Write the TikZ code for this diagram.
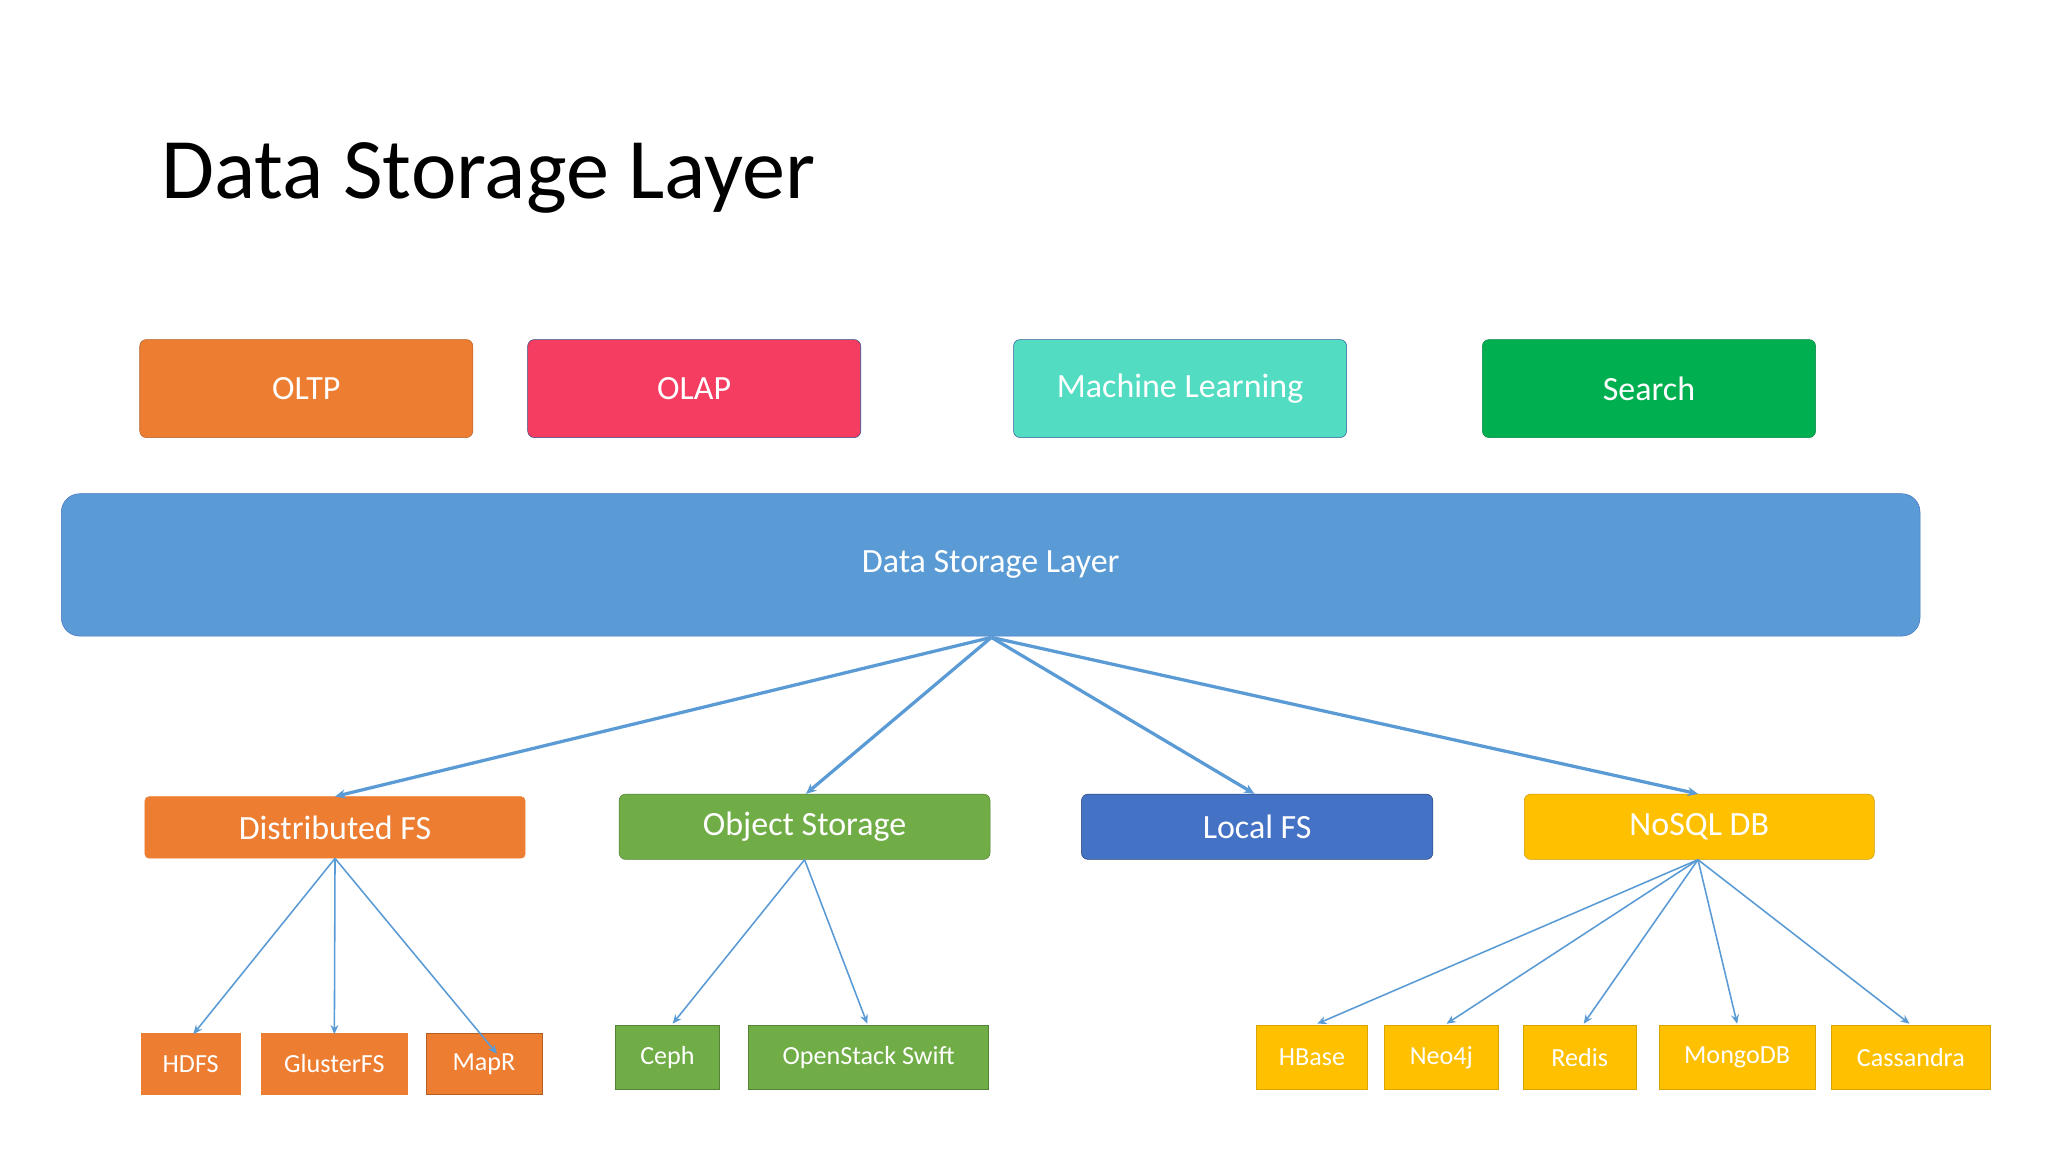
\documentclass[tikz,border=0pt]{standalone}
\usepackage{fontspec}
\setmainfont{Carlito}
\usetikzlibrary{arrows.meta}
\definecolor{cor}{HTML}{ED7D31}
\definecolor{cred}{HTML}{F53C61}
\definecolor{ctl}{HTML}{52DCC2}
\definecolor{cgr}{HTML}{00B050}
\definecolor{cbl}{HTML}{5B9BD5}
\definecolor{cgn}{HTML}{70AD47}
\definecolor{cdb}{HTML}{4472C4}
\definecolor{cyl}{HTML}{FFC000}
\begin{document}
\begin{tikzpicture}[x=1pt,y=-1pt,
 box/.style={draw=#1!75!black,fill=#1,text=white,rounded corners=5pt,inner sep=0pt,font=\fontsize{26}{30}\selectfont},
 sb/.style={draw=#1!75!black,fill=#1,text=white,inner sep=0pt,font=\fontsize{20}{24}\selectfont},
 big/.style={-{Stealth[length=8pt,width=7pt]},cbl,line width=2.5pt},
 sm/.style={-{Stealth[length=7pt,width=6pt]},cbl,line width=1.2pt}]
\useasboundingbox (0,0) rectangle (1568,882);
\node[anchor=base west,font=\fontsize{66}{70}\selectfont] (title) at (120,152) {Data Storage Layer};
\newcommand\bx[7]{\node[#1=#2,minimum width=#5-#4,minimum height=#7-#6] (#3) at ({(#4+#5)/2},{(#6+#7)/2}) {};}
\node[box=cor,minimum width=255,minimum height=75] (oltp) at (234.5,297.5) {OLTP};
\node[box=cred,draw=cdb!70!black,minimum width=255,minimum height=75] (olap) at (531.5,297.5) {OLAP};
\node[box=ctl,draw=cdb!80!black,minimum width=255,minimum height=75] (ml) at (903.5,297.5) {Machine Learning};
\node[box=cgr,minimum width=255,minimum height=75] (search) at (1262.5,297.5) {Search};
\node[box=cbl,draw=cdb,rounded corners=14pt,minimum width=1423,minimum height=109] (dsl) at (758.5,432.5) {Data Storage Layer};
\node[box=cor,draw=cor,rounded corners=3pt,minimum width=291,minimum height=47] (dfs) at (256.5,633.5) {Distributed FS};
\node[box=cgn,minimum width=284,minimum height=50] (obj) at (616,633) {Object Storage};
\node[box=cdb,draw=cdb!60!black,minimum width=269,minimum height=50] (lfs) at (962.5,633) {Local FS};
\node[box=cyl,draw=cyl!80!black,minimum width=268,minimum height=50] (nosql) at (1301,633) {NoSQL DB};
\node[sb=cor,draw=cor,minimum width=76,minimum height=47] (hdfs) at (146,814.5) {HDFS};
\node[sb=cor,draw=cor,minimum width=112,minimum height=47] (gfs) at (256,814.5) {GlusterFS};
\node[sb=cor,minimum width=89,minimum height=47] (mapr) at (370.5,814.5) {MapR};
\node[sb=cgn,minimum width=80,minimum height=49] (ceph) at (511,809.5) {Ceph};
\node[sb=cgn,minimum width=184,minimum height=49] (swift) at (665,809.5) {OpenStack Swift};
\node[sb=cyl,draw=cyl!85!black,minimum width=85,minimum height=49] (hbase) at (1004.5,809.5) {HBase};
\node[sb=cyl,draw=cyl!85!black,minimum width=87,minimum height=49] (neo) at (1103.5,809.5) {Neo4j};
\node[sb=cyl,draw=cyl!85!black,minimum width=87,minimum height=49] (redis) at (1209.5,809.5) {Redis};
\node[sb=cyl,draw=cyl!85!black,minimum width=120,minimum height=49] (mongo) at (1330,809.5) {MongoDB};
\node[sb=cyl,draw=cyl!85!black,minimum width=122,minimum height=49] (cass) at (1463,809.5) {Cassandra};
\coordinate (d0) at (759,488);
\draw[big] (d0) -- (dfs.north);
\draw[big] (d0) -- ([xshift=1pt]obj.north);
\draw[big] (d0) -- ([xshift=-2pt]lfs.north);
\draw[big] (d0) -- ([xshift=-1pt]nosql.north);
\draw[sm] (dfs.south) -- ([xshift=2pt,yshift=-1pt]hdfs.north);
\draw[sm] (dfs.south) -- ([yshift=-1pt]gfs.north);
\draw[sm] (dfs.south) -- ([xshift=10pt,yshift=-16pt]mapr.north);
\draw[sm] (obj.south) -- ([xshift=4pt,yshift=1pt]ceph.north);
\draw[sm] (obj.south) -- ([xshift=-1pt,yshift=1pt]swift.north);
\draw[sm] ([xshift=-1pt]nosql.south) -- ([xshift=4pt,yshift=1pt]hbase.north);
\draw[sm] ([xshift=-1pt]nosql.south) -- ([xshift=4pt,yshift=1pt]neo.north);
\draw[sm] ([xshift=-1pt]nosql.south) -- ([xshift=3pt,yshift=1pt]redis.north);
\draw[sm] ([xshift=-1pt]nosql.south) -- ([yshift=1pt]mongo.north);
\draw[sm] ([xshift=-1pt]nosql.south) -- ([xshift=-1pt,yshift=1pt]cass.north);
\end{tikzpicture}
\end{document}
